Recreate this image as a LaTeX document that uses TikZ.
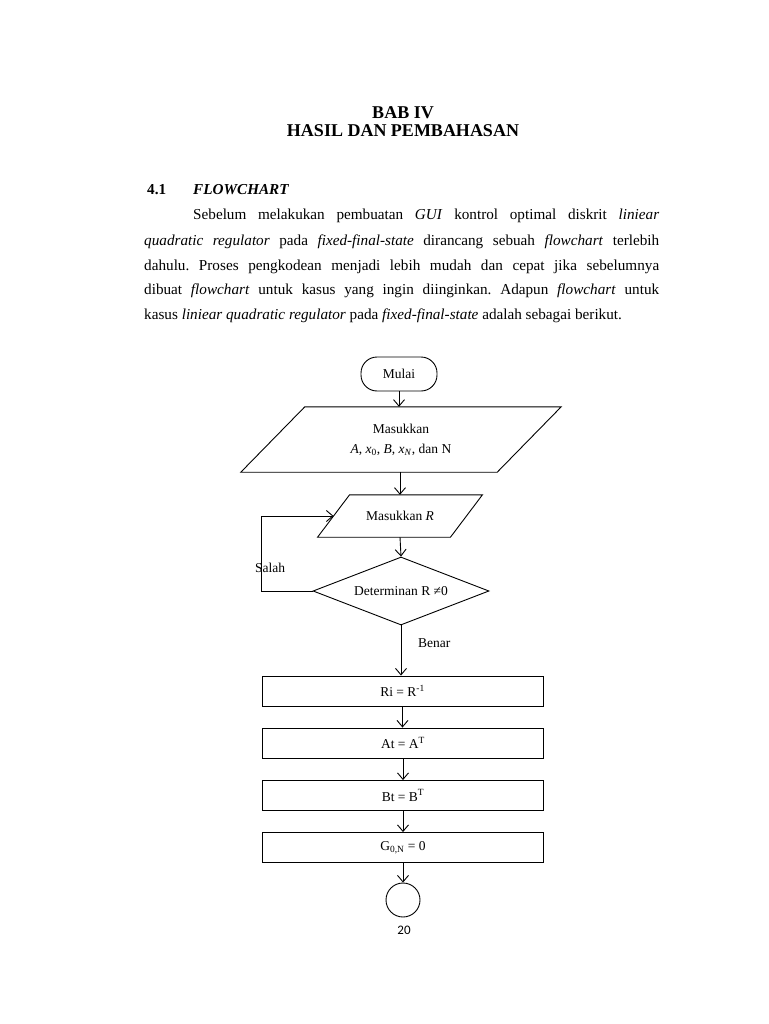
\documentclass[tikz,border=0pt]{standalone}
\usepackage{fontspec}
\setmainfont{Liberation Serif}
\newfontfamily\pagefont{Carlito}
\usetikzlibrary{arrows.meta,shapes.geometric,calc}
\frenchspacing
\newcommand\bodyfont{\fontsize{15.2}{18}\selectfont}
\newcommand\flowfont{\fontsize{13.5}{19}\selectfont}
\newcommand\titlefont{\fontsize{18}{20}\selectfont\bfseries}
\newcommand\pgram[2]{\draw[shapeline] ([xshift=#2]#1.north west) -- ([xshift=#2]#1.north east) -- ([xshift=-#2]#1.south east) -- ([xshift=-#2]#1.south west) -- cycle;}
\begin{document}
\begin{tikzpicture}[x=1pt,y=-1pt,
  body/.style={font=\bodyfont, inner sep=0pt, anchor=base west},
  ttl/.style={font=\titlefont, inner sep=0pt, anchor=base},
  shapeline/.style={line width=0.9pt},
  ftxt/.style={font=\flowfont, align=center, inner sep=0pt},
  term/.style={ftxt, draw, shapeline, rounded corners=16pt, minimum width=76pt, minimum height=34pt},
  iobox/.style={ftxt},
  procbox/.style={ftxt, draw, shapeline, minimum width=281pt, minimum height=30pt},
  decision/.style={ftxt, draw, shapeline, diamond, aspect=2.59, minimum width=176pt, minimum height=68pt},
  endpt/.style={draw, shapeline, circle, minimum size=34pt, inner sep=0pt},
  lbl/.style={font=\flowfont, inner sep=0pt, anchor=base west},
  arr/.style={line width=0.9pt, -{Straight Barb[length=6.5pt,width=11pt,line width=0.9pt]}}
]
\useasboundingbox[fill=white] (0,0) rectangle (768,1024);

% Title
\node[ttl] (t1) at (403,119) {BAB IV};
\node[ttl] (t2) at (403,137) {HASIL DAN PEMBAHASAN};

% Section heading
\node[body, font=\bodyfont\bfseries] (sec) at (147,195) {4.1};
\node[body, font=\bodyfont\bfseries\itshape] (sect) at (193,195) {FLOWCHART};

% Paragraph
\node[body] (p1) at (193,219) {\makebox[466pt][s]{Sebelum melakukan pembuatan \textit{GUI} kontrol optimal diskrit \textit{liniear}}};
\node[body] (p2) at (144,245) {\makebox[515pt][s]{\textit{quadratic regulator} pada \textit{fixed-final-state} dirancang sebuah \textit{flowchart} terlebih}};
\node[body] (p3) at (144,270) {\makebox[515pt][s]{dahulu. Proses pengkodean menjadi lebih mudah dan cepat jika sebelumnya}};
\node[body] (p4) at (144,294.5) {\makebox[515pt][s]{dibuat \textit{flowchart} untuk kasus yang ingin diinginkan. Adapun \textit{flowchart} untuk}};
\node[body] (p5) at (144,319) {kasus \textit{liniear quadratic regulator} pada \textit{fixed-final-state} adalah sebagai berikut.};

% Flowchart
\node[term] (mulai) at (399,374) {Mulai};
\node[iobox, minimum width=256pt, minimum height=65pt] (in1) at (401,439.5) {Masukkan\\[1pt]\textit{A}, \textit{x}\textsubscript{0}, \textit{B}, \textit{x}\textsubscript{\textit{N}}, dan N};
\pgram{in1}{32pt}
\node[iobox, minimum width=132.5pt, minimum height=42pt] (in2) at (400,516) {Masukkan \textit{R}};
\pgram{in2}{16pt}
\node[decision] (dec) at (401,591) {Determinan R ≠0};
\node[procbox] (r1) at (402.5,691) {Ri = R\textsuperscript{-1}};
\node[procbox] (r2) at (403,743) {At = A\textsuperscript{T}};
\node[procbox] (r3) at (403,795.5) {Bt = B\textsuperscript{T}};
\node[procbox] (r4) at (403,847.5) {G\textsubscript{0,N} = 0};
\node[endpt] (fin) at (403,900) {};

\draw[arr] (mulai.south) -- (mulai.south |- in1.north);
\draw[arr] (in1.south -| in2.north) -- (in2.north);
\draw[arr] (in2.south) -- (dec.north);
\draw[arr] (dec.west) -- ++(-51,0) |- (in2.west);
\draw[arr] (dec.south) -- (dec.south |- r1.north);
\draw[arr] (r1.south) -- (r1.south |- r2.north);
\draw[arr] (r2.south) -- (r3.north);
\draw[arr] (r3.south) -- (r4.north);
\draw[arr] (r4.south) -- (fin.north);

\node[lbl] (salah) at (255,572) {Salah};
\node[lbl] (benar) at (418,647) {Benar};

% Page number
\node[font=\pagefont\fontsize{13}{15}\selectfont, inner sep=0pt, anchor=base] (pg) at (404,934) {20};
\end{tikzpicture}
\end{document}
